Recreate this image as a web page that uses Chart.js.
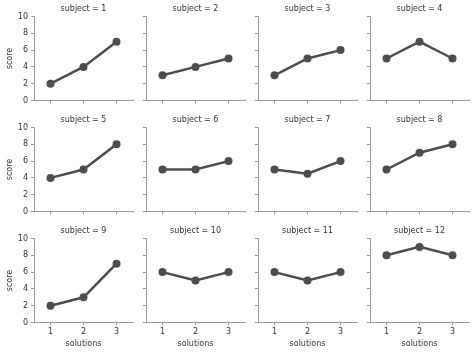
<!DOCTYPE html>
<html>
<head>
<meta charset="utf-8">
<script src="https://cdn.jsdelivr.net/npm/chart.js@4"></script>
<style>
  html, body { margin: 0; padding: 0; background: #fff; }
  body { width: 474px; height: 353px; position: relative; overflow: hidden; }
  canvas { position: absolute; }
</style>
</head>
<body>
<script>
const solutions = ['1', '2', '3'];
const subjects = [1, 2, 3, 4, 5, 6, 7, 8, 9, 10, 11, 12];
const s1 = [2, 4, 7];
const s2 = [3, 4, 5];
const s3 = [3, 5, 6];
const s4 = [5, 7, 5];
const s5 = [4, 5, 8];
const s6 = [5, 5, 6];
const s7 = [5, 4.5, 6];
const s8 = [5, 7, 8];
const s9 = [2, 3, 7];
const s10 = [6, 5, 6];
const s11 = [6, 5, 6];
const s12 = [8, 9, 8];
const scores = [s1, s2, s3, s4, s5, s6, s7, s8, s9, s10, s11, s12];
const yTicks = [0, 2, 4, 6, 8, 10];

const FONT = 'DejaVu Sans';
const colLeft = [0, 112, 224, 336];
const rowTop = [0, 110.5, 221.5];
const PAD_TOP = 16.5;
const AREA_H = 84;
const X_AXIS_H = 26;
const Y_AXIS_W = 34;
const CANVAS_W = 137;
const CANVAS_H = 135;

const titlePlugin = {
  id: 'facetTitle',
  afterDraw(chart, args, opts) {
    const ctx = chart.ctx, a = chart.chartArea;
    ctx.save();
    ctx.font = '8px "' + FONT + '"';
    ctx.fillStyle = '#333';
    ctx.textAlign = 'center';
    ctx.textBaseline = 'middle';
    ctx.fillText(opts.text, (a.left + a.right) / 2, a.top - 8);
    ctx.restore();
  }
};

subjects.forEach((subj, i) => {
  const r = Math.floor(i / 4), c = i % 4;
  const cv = document.createElement('canvas');
  cv.style.left = colLeft[c] + 'px';
  cv.style.top = rowTop[r] + 'px';
  cv.style.width = CANVAS_W + 'px';
  cv.style.height = CANVAS_H + 'px';
  cv.width = CANVAS_W; cv.height = CANVAS_H;
  document.body.appendChild(cv);
  const firstCol = c === 0, lastRow = r === 2;
  new Chart(cv, {
    type: 'line',
    data: {
      labels: solutions,
      datasets: [{
        data: scores[i],
        borderColor: '#4d4d4d',
        backgroundColor: '#4d4d4d',
        borderWidth: 2.5,
        pointRadius: 4,
        pointHoverRadius: 4,
        pointBorderWidth: 0,
        tension: 0,
        fill: false
      }]
    },
    options: {
      responsive: false,
      animation: false,
      events: [],
      layout: { padding: { top: PAD_TOP, right: CANVAS_W - Y_AXIS_W - 100, left: 0, bottom: CANVAS_H - PAD_TOP - AREA_H - X_AXIS_H } },
      plugins: {
        legend: { display: false },
        tooltip: { enabled: false },
        facetTitle: { text: 'subject = ' + subj }
      },
      scales: {
        x: {
          type: 'category',
          offset: true,
          grid: { display: true, drawOnChartArea: false, drawTicks: true, tickLength: 3, color: '#999', offset: false },
          border: { display: true, color: '#999', width: 1 },
          ticks: {
            display: lastRow,
            color: '#333',
            font: { family: FONT, size: 8 },
            padding: 2,
            maxRotation: 0
          },
          title: {
            display: lastRow,
            text: 'solutions',
            color: '#333',
            font: { family: FONT, size: 8 },
            padding: { top: 1, bottom: 0 }
          },
          afterFit(scale) { scale.height = X_AXIS_H; }
        },
        y: {
          min: 0, max: 10,
          afterBuildTicks(scale) { scale.ticks = yTicks.map(v => ({ value: v })); },
          grid: { display: true, drawOnChartArea: false, drawTicks: true, tickLength: 3, color: '#999' },
          border: { display: true, color: '#999', width: 1 },
          ticks: {
            display: firstCol,
            color: '#333',
            font: { family: FONT, size: 8 },
            padding: 3
          },
          title: {
            display: firstCol,
            text: 'score',
            color: '#333',
            font: { family: FONT, size: 8 },
            padding: { top: 5, bottom: 2 }
          },
          afterFit(scale) { scale.width = Y_AXIS_W; }
        }
      }
    },
    plugins: [titlePlugin]
  });
});
</script>
</body>
</html>
